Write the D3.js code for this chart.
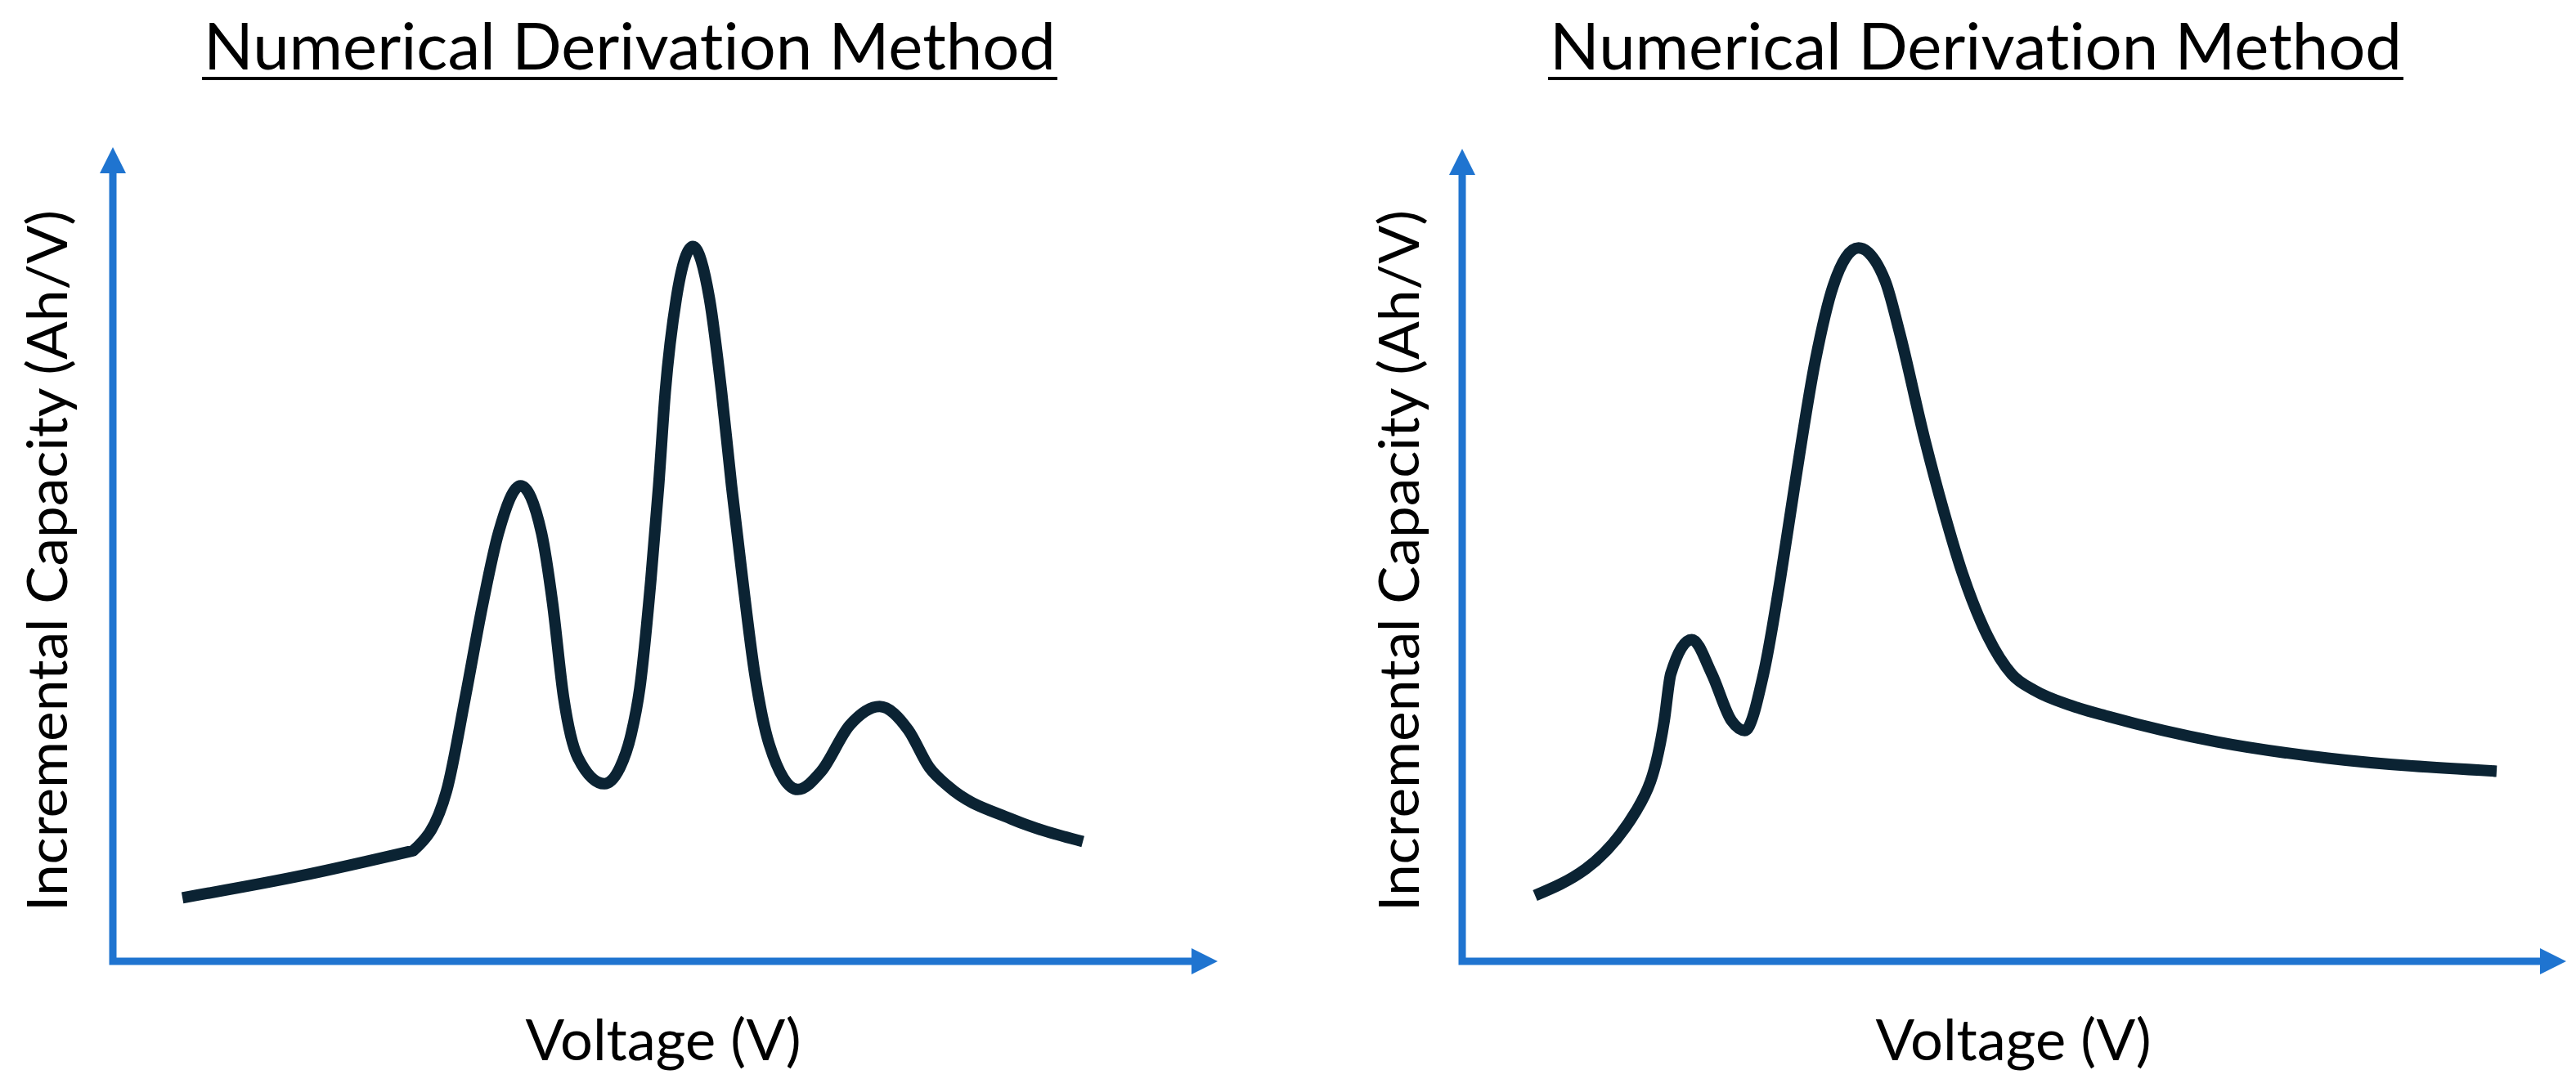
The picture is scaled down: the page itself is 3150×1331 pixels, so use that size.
<!DOCTYPE html>
<html>
<head>
<meta charset="utf-8">
<script src="https://cdn.jsdelivr.net/npm/d3@7"></script>
<style>
  html, body { margin: 0; padding: 0; background: #ffffff; }
  text { font-variant-ligatures: none; font-feature-settings: "liga" 0; }
</style>
</head>
<body>
<div id="chart"></div>
<script>
/* -----------------    DATA     ------------------ */

// Texts
const titles = ['Numerical Derivation Method', 'Numerical Derivation Method'];
const xLabels = ['Voltage (V)', 'Voltage (V)'];
const yLabels = ['Incremental Capacity (Ah/V)', 'Incremental Capacity (Ah/V)'];

// Left panel: three peaks (relative units, 0-100 on both axes)
const leftVoltage = [6.3, 17.0, 27.2, 30.2, 31.9, 33.5, 34.9, 36.9, 38.8, 39.8, 40.8, 42.1, 44.5, 45.9, 46.9,
    47.7, 48.7, 49.4, 50.0, 51.0, 52.5, 54.0, 55.1, 56.0, 57.0, 58.1, 59.4, 62.0, 64.1, 66.7, 69.4, 72.0,
    73.9, 75.6, 81.3, 87.8];
const leftCapacity = [7.8, 10.5, 13.6, 20.9, 32.4, 44.0, 52.6, 58.4, 52.6, 44.0, 32.4, 25.0, 21.8, 23.8, 27.8,
    33.6, 46.9, 58.4, 69.9, 81.4, 87.8, 81.4, 69.9, 58.4, 46.9, 35.3, 26.7, 21.1, 23.3, 29.0, 31.3, 28.4,
    23.8, 21.5, 17.5, 14.7];
// index of the sharp corner where the left curve starts rising
const leftKink = 2;

// Right panel: small shoulder + one broad peak
const rightVoltage = [6.6, 15.8, 18.3, 18.9, 20.8, 22.6, 24.4, 25.6, 27.3, 28.8, 30.1, 32.0, 33.6,
    35.9, 38.3, 39.6, 41.9, 43.6, 45.3, 47.6, 49.8, 51.9, 55.1, 58.6, 68.4, 78.4, 93.7];
const rightCapacity = [8.1, 18.6, 29.6, 35.4, 39.6, 35.4, 29.6, 28.4, 35.4, 46.9, 58.4, 74.0, 83.1,
    87.8, 83.8, 77.5, 64.2, 55.5, 47.8, 40.0, 35.3, 33.3, 31.5, 30.1, 27.0, 25.0, 23.4];
const rightKink = null;

/* -----------------    CONSTANTS     ------------------ */
const graphSettings = {

    // SVG
    svgWidth: 3150,
    svgHeight: 1331,

    // Arrow head
    headLen: 32,

    // Colors
    axisBlue: '#1f74d0',
    curveDark: '#0b2333',
    textColor: '#000000',

    // Fonts
    fontFamily: 'Lato, "Open Sans", sans-serif'
};

const panels = [
    { x0: 138, xTip: 1489, y0: 1176, yTip: 180, titleX: 770, labelX: 811, yLabelX: 82,
      voltage: leftVoltage, capacity: leftCapacity, kink: leftKink },
    { x0: 1788, xTip: 3138, y0: 1176, yTip: 182, titleX: 2416, labelX: 2462, yLabelX: 1735,
      voltage: rightVoltage, capacity: rightCapacity, kink: rightKink }
];

/* -----------------    LOGIC     ------------------ */

const svg = d3.select('#chart')
    .append('svg')
    .attr('width', graphSettings.svgWidth)
    .attr('height', graphSettings.svgHeight);

svg.append('rect')
    .attr('width', graphSettings.svgWidth)
    .attr('height', graphSettings.svgHeight)
    .attr('fill', '#ffffff');

// Arrow marker
const hl = graphSettings.headLen;
svg.append('defs')
    .append('marker')
    .attr('id', 'arrow')
    .attr('markerUnits', 'userSpaceOnUse')
    .attr('viewBox', `0 0 ${hl} ${hl}`)
    .attr('markerWidth', hl)
    .attr('markerHeight', hl)
    .attr('refX', 0)
    .attr('refY', hl / 2)
    .attr('orient', 'auto-start-reverse')
    .append('path')
    .attr('d', `M0,0 L${hl},${hl / 2} L0,${hl} Z`)
    .attr('fill', graphSettings.axisBlue);

panels.forEach((p, i) => {

    // Scales
    const xScale = d3.scaleLinear().domain([0, 100]).range([p.x0, p.xTip]);
    const yScale = d3.scaleLinear().domain([0, 100]).range([p.y0, p.yTip]);

    const g = svg.append('g').attr('class', 'panel-' + i);

    // Axes (L-shaped, arrows at both ends)
    const axisPts = [[0, 100], [0, 0], [100, 0]];
    const axisLine = d3.line()
        .x(d => xScale(d[0]) - (d[0] === 100 ? hl : 0))
        .y(d => yScale(d[1]) + (d[1] === 100 ? hl : 0));

    g.append('path')
        .attr('d', axisLine(axisPts))
        .attr('fill', 'none')
        .attr('stroke', graphSettings.axisBlue)
        .attr('stroke-width', 9)
        .attr('stroke-linejoin', 'miter')
        .attr('marker-start', 'url(#arrow)')
        .attr('marker-end', 'url(#arrow)');

    // Curve (split at a sharp corner if there is one, then joined back into one path)
    const pts = p.voltage.map((v, k) => ({ v: v, c: p.capacity[k] }));
    const pieces = p.kink === null ? [pts] : [pts.slice(0, p.kink + 1), pts.slice(p.kink)];
    const curve = d3.line()
        .x(d => xScale(d.v))
        .y(d => yScale(d.c))
        .curve(d3.curveMonotoneX);

    const d = pieces.map((piece, k) => k === 0 ? curve(piece) : curve(piece).replace(/^M/, 'L')).join('');

    g.append('path')
        .attr('d', d)
        .attr('fill', 'none')
        .attr('stroke', graphSettings.curveDark)
        .attr('stroke-width', 14)
        .attr('stroke-linejoin', 'round');

    // Title with underline
    g.append('text')
        .attr('x', p.titleX)
        .attr('y', 85)
        .attr('text-anchor', 'middle')
        .attr('font-family', graphSettings.fontFamily)
        .attr('font-size', 80)
        .attr('fill', graphSettings.textColor)
        .attr('textLength', 1042)
        .attr('lengthAdjust', 'spacingAndGlyphs')
        .text(titles[i]);

    g.append('line')
        .attr('x1', p.titleX - 523)
        .attr('x2', p.titleX + 523)
        .attr('y1', 96)
        .attr('y2', 96)
        .attr('stroke', graphSettings.textColor)
        .attr('stroke-width', 4);

    // X label
    g.append('text')
        .attr('x', p.labelX)
        .attr('y', 1297)
        .attr('text-anchor', 'middle')
        .attr('font-family', graphSettings.fontFamily)
        .attr('font-size', 70)
        .attr('fill', graphSettings.textColor)
        .attr('textLength', 337)
        .attr('lengthAdjust', 'spacingAndGlyphs')
        .text(xLabels[i]);

    // Y label
    g.append('text')
        .attr('transform', `translate(${p.yLabelX}, 686) rotate(-90)`)
        .attr('text-anchor', 'middle')
        .attr('font-family', graphSettings.fontFamily)
        .attr('font-size', 68)
        .attr('fill', graphSettings.textColor)
        .attr('textLength', 858)
        .attr('lengthAdjust', 'spacingAndGlyphs')
        .text(yLabels[i]);
});
</script>
</body>
</html>
